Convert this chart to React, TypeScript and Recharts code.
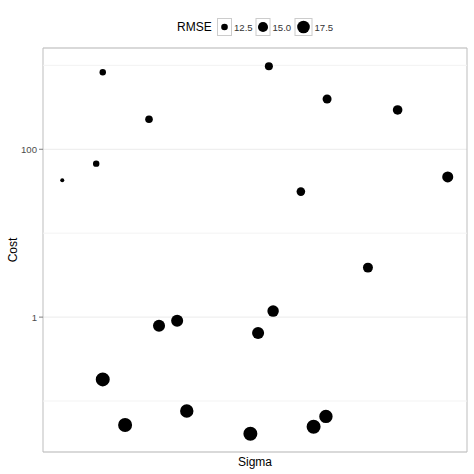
import React from 'react';
import {
  ScatterChart,
  Scatter,
  XAxis,
  YAxis,
  ZAxis,
  CartesianGrid,
  ReferenceLine,
  ReferenceArea,
} from 'recharts';

// Sigma (arbitrary units, no tick labels on the axis)
const sigma = [0, 8.8, 10.5, 22.5, 53.6, 68.7, 87.0, 61.9, 100, 79.3, 10.5, 16.3, 25.1, 29.8, 32.3, 50.8, 54.7, 48.8, 65.2, 68.4];
// Cost (log scale)
const cost = [42.8, 67.4, 826, 228, 973, 397, 294, 31.3, 46.8, 3.89, 0.181, 0.0518, 0.787, 0.904, 0.076, 0.645, 1.18, 0.0408, 0.0494, 0.0656];
// RMSE (point size)
const rmse = [11.3, 12.4, 12.4, 13.1, 13.4, 14.1, 14.6, 13.8, 15.9, 14.9, 19.1, 19.1, 16.9, 16.9, 18.4, 16.9, 16.3, 19.1, 19.1, 18.4];

const legendValues = [12.5, 15.0, 17.5];
const legendLabels = ['12.5', '15.0', '17.5'];
const yTicks = [1, 100];
const yMinorTicks = [0.1, 10, 1000];

const X_DOMAIN: [number, number] = [-5, 105];
const Y_DOMAIN: [number, number] = [0.0247, 1610];
const SIZE_DOMAIN: [number, number] = [10.6, 20];
const SIZE_RANGE: [number, number] = [0, 170];

const data = sigma.map((s, i) => ({ sigma: s, cost: cost[i], rmse: rmse[i] }));

const sizeRadius = (v: number) => {
  const t = (v - SIZE_DOMAIN[0]) / (SIZE_DOMAIN[1] - SIZE_DOMAIN[0]);
  const area = SIZE_RANGE[0] + t * (SIZE_RANGE[1] - SIZE_RANGE[0]);
  return Math.sqrt(area / Math.PI);
};

const FONT = '"Liberation Sans", Arial, Helvetica, sans-serif';

export default function App() {
  const keyX = [217.5, 256, 295];
  const keyW = [14, 14, 17];
  return (
    <div style={{ position: 'absolute', left: 0, top: 0, width: 474, height: 474, background: '#fff', fontFamily: FONT }}>
      <ScatterChart width={474} height={474} margin={{ top: 48, right: 7, bottom: 22, left: 0 }}>
        <CartesianGrid vertical={false} stroke="#ebebeb" strokeWidth={1} />
        {yMinorTicks.map((v) => (
          <ReferenceLine key={v} y={v} stroke="#f3f3f3" strokeWidth={1} />
        ))}
        <XAxis type="number" dataKey="sigma" domain={X_DOMAIN} hide allowDataOverflow />
        <YAxis
          type="number"
          dataKey="cost"
          scale="log"
          domain={Y_DOMAIN}
          allowDataOverflow
          ticks={yTicks}
          tickFormatter={(v: number) => String(v)}
          width={43}
          axisLine={false}
          tickSize={4}
          tickMargin={2}
          tickLine={{ stroke: '#7f7f7f' }}
          tick={{ fill: '#4d4d4d', fontSize: 9.6, fontFamily: FONT }}
        />
        <ZAxis type="number" dataKey="rmse" domain={SIZE_DOMAIN} range={SIZE_RANGE} />
        <Scatter data={data} fill="#000" isAnimationActive={false} />
        <ReferenceArea
          x1={X_DOMAIN[0]}
          x2={X_DOMAIN[1]}
          y1={Y_DOMAIN[0]}
          y2={Y_DOMAIN[1]}
          fill="none"
          fillOpacity={0}
          stroke="#bdbdbd"
          strokeWidth={1}
        />
      </ScatterChart>
      <svg
        width={474}
        height={474}
        style={{ position: 'absolute', left: 0, top: 0, pointerEvents: 'none' }}
      >
        <text x={16.5} y={250} transform="rotate(-90 16.5 250)" textAnchor="middle" fontSize={12} fill="#000" fontFamily={FONT}>
          Cost
        </text>
        <text x={255} y={466} textAnchor="middle" fontSize={12} fill="#000" fontFamily={FONT}>
          Sigma
        </text>
        <text x={177} y={30.5} fontSize={12} fill="#000" fontFamily={FONT}>
          RMSE
        </text>
        {legendValues.map((v, i) => (
          <g key={v}>
            <rect x={keyX[i]} y={18.5} width={keyW[i]} height={17} fill="#fff" stroke="#cccccc" strokeWidth={1} />
            <circle cx={keyX[i] + keyW[i] / 2} cy={27} r={sizeRadius(v)} fill="#000" />
            <text x={keyX[i] + keyW[i] + 2.5} y={30.5} fontSize={9.6} fill="#333" fontFamily={FONT}>
              {legendLabels[i]}
            </text>
          </g>
        ))}
      </svg>
    </div>
  );
}
